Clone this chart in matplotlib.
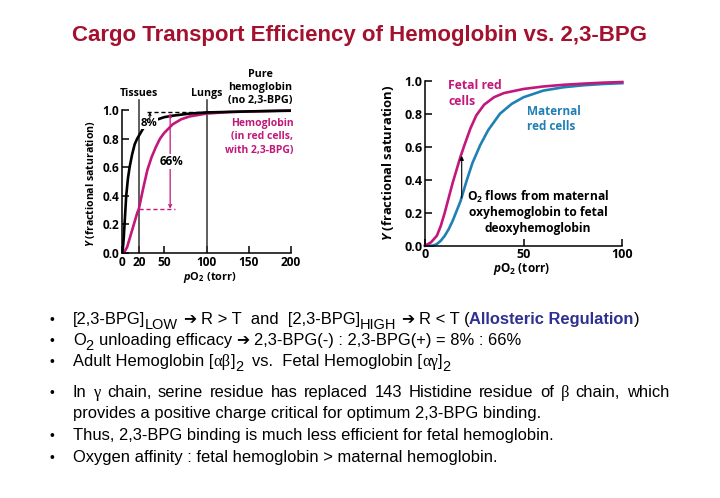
import matplotlib
matplotlib.use("Agg")
import matplotlib.pyplot as plt

# ---- data ----
# left panel: pure Hb vs Hb in red cells (with 2,3-BPG)
pure_x = [0, 1, 2, 3, 4, 5, 7, 9, 12, 15, 18, 20, 25, 30, 40, 50, 60, 80, 100, 150, 200]
pure_y = [0, 0.03, 0.10, 0.20, 0.30, 0.40, 0.52, 0.60, 0.69, 0.76, 0.80, 0.82, 0.87, 0.90, 0.93, 0.95, 0.96, 0.975, 0.983, 0.99, 0.995]
bpg_x = [0, 1, 3, 6, 9, 12, 15, 18, 20, 25, 30, 35, 40, 45, 50, 60, 70, 80, 100, 125, 150, 200]
bpg_y = [0, 0.0, 0.01, 0.04, 0.10, 0.16, 0.22, 0.28, 0.31, 0.45, 0.58, 0.67, 0.74, 0.80, 0.84, 0.90, 0.935, 0.955, 0.975, 0.985, 0.99, 0.997]
tissue_po2 = 20
lung_po2 = 100
sat_top = 0.985      # dashed reference level
pure_tissue = 0.88   # end of 8% bracket
bpg_tissue = 0.31    # end of 66% bracket

# right panel: fetal vs maternal red cells
fetal_x = [0, 3, 6, 8, 10, 12, 14, 16, 18, 20, 23, 26, 30, 35, 40, 50, 60, 70, 80, 90, 100]
fetal_y = [0, 0.02, 0.06, 0.12, 0.20, 0.29, 0.38, 0.46, 0.54, 0.61, 0.71, 0.79, 0.855, 0.90, 0.925, 0.95, 0.965, 0.975, 0.982, 0.988, 0.992]
maternal_x = [0, 4, 6, 8, 10, 12, 14, 16, 18, 21, 24, 28, 32, 38, 44, 50, 60, 70, 80, 90, 100]
maternal_y = [0, 0, 0.01, 0.03, 0.06, 0.10, 0.15, 0.21, 0.27, 0.39, 0.50, 0.61, 0.70, 0.80, 0.86, 0.90, 0.94, 0.96, 0.972, 0.98, 0.985]
transfer_po2 = 18.6
transfer_from, transfer_to = 0.29, 0.545

left_xticks = [0, 20, 50, 100, 150, 200]
right_xticks = [0, 50, 100]
yticks = [0.0, 0.2, 0.4, 0.6, 0.8, 1.0]

title = "Cargo Transport Efficiency of Hemoglobin vs. 2,3-BPG"

# bullet text: (segments, baseline px, bullet?, justify width px)
bullet_lines = [
    ([("[2,3-BPG]", "n"), ("LOW", "sub"), (" ", "n"), ("➔", "ar"), (" R > T  and  [2,3-BPG]", "n"), ("HIGH", "sub"),
      (" ", "n"), ("➔", "ar"), (" R < T (", "n"), ("Allosteric Regulation", "hl"), (")", "n")], 324, True, None),
    ([("O", "n"), ("2", "sub"), (" unloading efficacy ", "n"), ("➔", "ar"),
      (" 2,3-BPG(-) : 2,3-BPG(+) = 8% : 66%", "n")], 345, True, None),
    ([("Adult Hemoglobin [", "n"), ("αβ", "gr"), ("]", "n"), ("2", "sub"), ("  vs.  Fetal Hemoglobin [", "n"),
      ("αγ", "gr"), ("]", "n"), ("2", "sub")], 365.5, True, None),
    ([("In ", "n"), ("γ", "gr"), (" chain, serine residue has replaced 143 Histidine residue of ", "n"),
      ("β", "gr"), (" chain, which", "n")], 397, True, 596),
    ([("provides a positive charge critical for optimum 2,3-BPG binding.", "n")], 417.5, False, None),
    ([("Thus, 2,3-BPG binding is much less efficient for fetal hemoglobin.", "n")], 439.5, True, None),
    ([("Oxygen affinity : fetal hemoglobin > maternal hemoglobin.", "n")], 462, True, None),
]

MAGENTA = "#c2187b"
BLUE = "#1e80b4"
TITLE_RED = "#a3112e"
HL_BLUE = "#2e3192"

W, H = 720, 498
plt.rcParams['font.family'] = ['Open Sans', 'DejaVu Sans']
plt.rcParams['font.weight'] = 'bold'
plt.rcParams['mathtext.fontset'] = 'custom'
plt.rcParams['mathtext.rm'] = 'Open Sans:bold'
plt.rcParams['mathtext.it'] = 'Open Sans:italic:bold'
plt.rcParams['mathtext.bf'] = 'Open Sans:bold'

fig = plt.figure(figsize=(W / 100, H / 100), dpi=100)
renderer = fig.canvas.get_renderer()


def px_box(x0, y0, x1, y1):
    # pixel box (top-left origin) -> figure fraction rect
    return [x0 / W, 1 - y1 / H, (x1 - x0) / W, (y1 - y0) / H]


def fit(texts, target, use_height=False):
    # scale font so the widest text matches the width seen in the reference
    ext = [t.get_window_extent(renderer) for t in texts]
    cur = max((e.height if use_height else e.width) for e in ext)
    fs = texts[0].get_fontsize() * target / cur
    for t in texts:
        t.set_fontsize(fs)


def block(x, baselines, lines, ha, color, target):
    ts = [fig.text(x / W, 1 - b / H, s, ha=ha, va='baseline', color=color, fontsize=8)
          for s, b in zip(lines, baselines)]
    fit(ts, target)
    return ts


def style_axes(ax, fs):
    for s in ['top', 'right']:
        ax.spines[s].set_visible(False)
    for s in ['left', 'bottom']:
        ax.spines[s].set_linewidth(1.1)
    ax.spines['left'].set_bounds(0, 1)
    ax.tick_params(direction='in', length=5, width=1.1, labelsize=fs, pad=2)
    ax.set_yticks(yticks)
    ax.set_yticklabels(["%.1f" % v for v in yticks], fontweight='bold')


# ---- left panel ----
ax1 = fig.add_axes(px_box(122, 95.7, 291, 253))
ax1.set_xlim(0, 200)
ax1.set_ylim(0, 1.1)
style_axes(ax1, 8.6)
ax1.set_xticks(left_xticks)
ax1.set_xticklabels([str(v) for v in left_xticks], fontweight='bold')
ax1.axvline(tissue_po2, ymin=0, ymax=1.07 / 1.1, color='#333333', lw=1.1)
ax1.axvline(lung_po2, ymin=0, ymax=1.07 / 1.1, color='#333333', lw=1.1)
ax1.plot(bpg_x, bpg_y, color=MAGENTA, lw=1.9, solid_capstyle='round')
ax1.plot(pure_x, pure_y, color='black', lw=1.9, solid_capstyle='round')
ax1.plot([30, lung_po2], [sat_top, sat_top], color='black', lw=1.0, ls=(0, (3, 2)))
ax1.plot([tissue_po2, 63], [bpg_tissue, bpg_tissue], color=MAGENTA, lw=1.0, ls=(0, (3, 2)))
ax1.annotate("", xy=(33, sat_top), xytext=(33, pure_tissue),
             arrowprops=dict(arrowstyle='<->', color='black', lw=0.8, mutation_scale=4,
                             shrinkA=0, shrinkB=0))
ax1.annotate("", xy=(57, 0.977), xytext=(57, bpg_tissue),
             arrowprops=dict(arrowstyle='<->', color=MAGENTA, lw=0.9, mutation_scale=5,
                             shrinkA=0, shrinkB=0))
t8 = block(149.3, [126], ["8%"], 'center', 'black', 16.7)
t8[0].set_bbox(dict(facecolor='white', edgecolor='none', pad=0.2))
t66 = block(171.7, [165], ["66%"], 'center', 'black', 24)
t66[0].set_bbox(dict(facecolor='white', edgecolor='none', pad=0.5))
block(ax1.transData.transform((tissue_po2, 0))[0], [96], ["Tissues"], 'center', 'black', 38)
block(ax1.transData.transform((lung_po2, 0))[0], [96], ["Lungs"], 'center', 'black', 31.7)
block(260, [77.3, 90, 103.3], ["Pure", "hemoglobin", "(no 2,3-BPG)"], 'center', 'black', 65)
block(293.3, [126, 139.3, 152.7], ["Hemoglobin", "(in red cells,", "with 2,3-BPG)"],
      'right', MAGENTA, 69)
yl1 = ax1.set_ylabel(r"$\mathit{Y}$ (fractional saturation)", fontsize=8, fontweight='bold')
fit([yl1], 127, use_height=True)
ax1.yaxis.set_label_coords((97 - 122) / 169, (253 - 183.5) / 157.3)
xl1 = ax1.set_xlabel(r"$\mathit{p}$O$_2$ (torr)", fontsize=8, fontweight='bold')
fit([xl1], 54)
ax1.xaxis.set_label_coords((210 - 122) / 169, (253 - 270) / 157.3)

# ---- right panel ----
ax2 = fig.add_axes(px_box(425, 80.7, 622.3, 245.7))
ax2.set_xlim(0, 100)
ax2.set_ylim(0, 1.0)
style_axes(ax2, 9)
ax2.set_xticks(right_xticks)
ax2.set_xticklabels([str(v) for v in right_xticks], fontweight='bold')
ax2.plot(maternal_x, maternal_y, color=BLUE, lw=1.9, clip_on=False)
ax2.plot(fetal_x, fetal_y, color=MAGENTA, lw=1.9, clip_on=False)
ax2.annotate("", xy=(transfer_po2, transfer_to), xytext=(transfer_po2, transfer_from),
             arrowprops=dict(arrowstyle='-|>', color='black', lw=0.8, mutation_scale=6,
                             shrinkA=0, shrinkB=0))
block(448.3, [89.3, 105.3], ["Fetal red", "cells"], 'left', MAGENTA, 54)
block(527.3, [114.7, 130.3], ["Maternal", "red cells"], 'left', BLUE, 54)
block(538, [200.7, 216, 231.7],
      ["O$_2$ flows from maternal", "oxyhemoglobin to fetal", "deoxyhemoglobin"],
      'center', 'black', 142)
yl2 = ax2.set_ylabel(r"$\mathit{Y}$ (fractional saturation)", fontsize=8, fontweight='bold')
fit([yl2], 157, use_height=True)
ax2.yaxis.set_label_coords((396 - 425) / 197.3, 0.5)
xl2 = ax2.set_xlabel(r"$\mathit{p}$O$_2$ (torr)", fontsize=8, fontweight='bold')
fit([xl2], 58)
ax2.xaxis.set_label_coords((522 - 425) / 197.3, (245.7 - 261) / 165)

# ---- title ----
fig.text(360 / W, 1 - 35 / H, title, fontsize=16, fontweight='bold', color=TITLE_RED,
         ha='center', va='center', family=['Liberation Sans', 'DejaVu Sans'])

# ---- bullets ----
BODY = ['Liberation Sans', 'DejaVu Sans']
body_fs = 11.9


def make_text(s, kind):
    kw = dict(fontsize=body_fs, family=BODY, fontweight='normal', color='black', va='baseline')
    if kind == 'sub':
        kw['fontsize'] = body_fs * 0.88
    elif kind == 'hl':
        kw['fontweight'] = 'bold'
        kw['color'] = HL_BLUE
    elif kind == 'gr':
        kw['family'] = ['Liberation Serif', 'DejaVu Serif']
    elif kind == 'ar':
        kw['family'] = ['DejaVu Sans']
        kw['fontsize'] = body_fs * 0.95
    return fig.text(0, 0, s, **kw)


def text_w(t):
    return t.get_window_extent(renderer).width


probe_a = fig.text(0, 0, "a a", fontsize=body_fs, family=BODY, fontweight='normal')
probe_b = fig.text(0, 0, "aa", fontsize=body_fs, family=BODY, fontweight='normal')
space_w = text_w(probe_a) - text_w(probe_b)
probe_a.remove()
probe_b.remove()

x_text = 73
for segs, base, bullet, just in bullet_lines:
    items = []   # None = a stretchable space, else (Text, kind)
    for s, kind in segs:
        if just:
            pieces = s.split(' ')
        else:
            core = s.strip(' ')
            lead = len(s) - len(s.lstrip(' '))
            trail = len(s) - len(s.rstrip(' '))
            pieces = [''] * lead + ([core] if core else []) + [''] * trail
            if not core:
                pieces = [''] * (len(s) + 1)
        for i, p in enumerate(pieces):
            if i > 0:
                items.append(None)
            if p:
                items.append((make_text(p, kind), kind))
    widths = [space_w if it is None else text_w(it[0]) for it in items]
    gap = space_w
    if just:
        n_gaps = sum(1 for it in items if it is None)
        words = sum(w for it, w in zip(items, widths) if it is not None)
        gap = (just - words) / n_gaps
    x = x_text
    for it, w in zip(items, widths):
        if it is None:
            x += gap
            continue
        t, kind = it
        y = base + (5 if kind == 'sub' else 0)
        t.set_position((x / W, 1 - y / H))
        x += w
    if bullet:
        fig.text(52 / W, 1 - base / H, "•", fontsize=10, family=BODY, fontweight='normal',
                 va='baseline', ha='center')

fig.savefig("out.png", dpi=100, facecolor='white')
